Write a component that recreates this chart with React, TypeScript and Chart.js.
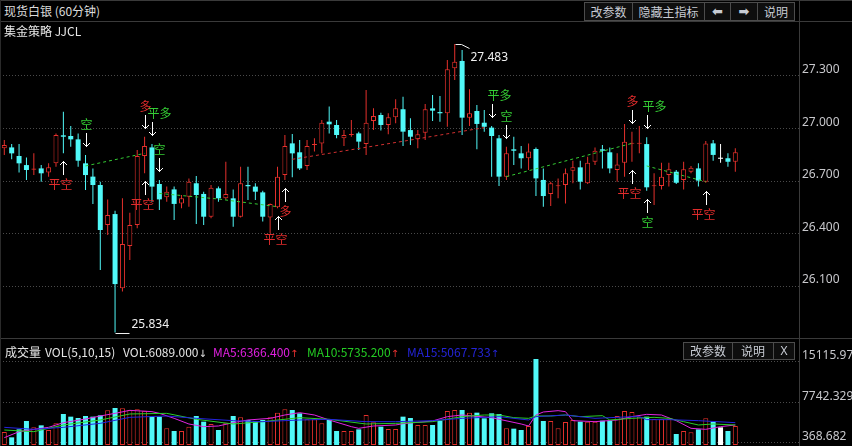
import React, { useEffect, useRef } from 'react';
import { Chart, registerables } from 'chart.js';

Chart.register(...registerables);

// ---------------- data ----------------
const opens = [26.887,26.892,26.843,26.791,26.765,26.772,26.748,26.801,26.961,26.957,26.938,26.801,26.725,26.677,26.449,26.511,26.087,26.329,26.449,26.843,26.892,26.683,26.607,26.652,26.572,26.610,26.687,26.626,26.496,26.658,26.601,26.601,26.496,26.677,26.668,26.635,26.492,26.550,26.734,26.915,26.864,26.786,26.906,26.915,27.039,27.020,26.944,26.963,26.972,26.911,27.043,27.077,27.020,27.064,27.110,26.991,26.938,26.976,27.115,27.094,27.087,27.344,27.386,27.062,27.100,27.033,27.005,26.944,26.725,26.881,26.858,26.830,26.883,26.706,26.626,26.671,26.677,26.759,26.778,26.687,26.810,26.881,26.864,26.763,26.805,26.913,26.913,26.911,26.671,26.671,26.734,26.753,26.706,26.753,26.772,26.696,26.915,26.830,26.830,26.810];
const highs = [26.934,26.911,26.911,26.835,26.858,26.791,26.801,26.972,27.096,27.014,26.972,26.849,26.772,26.696,26.595,26.530,26.601,26.519,26.877,26.953,26.911,26.706,26.668,26.668,26.620,26.715,26.729,26.639,26.677,26.668,26.810,26.652,26.782,26.782,26.687,26.645,26.572,26.782,26.963,26.969,26.934,26.934,26.944,27.049,27.125,27.049,26.991,27.049,26.982,27.220,27.115,27.090,27.087,27.167,27.182,27.058,26.991,27.140,27.191,27.186,27.391,27.483,27.449,27.224,27.134,27.106,27.014,26.963,26.896,26.953,26.900,26.915,26.892,26.772,26.696,26.715,26.772,26.816,26.816,26.839,26.892,26.906,26.892,26.858,27.026,26.982,27.014,26.950,26.744,26.805,26.805,26.763,26.810,26.786,26.801,26.929,26.934,26.911,26.858,26.887];
const lows = [26.849,26.824,26.748,26.706,26.734,26.696,26.725,26.782,26.858,26.896,26.782,26.649,26.569,26.191,26.391,25.834,26.068,26.249,26.430,26.744,26.582,26.534,26.582,26.477,26.544,26.553,26.454,26.449,26.487,26.582,26.595,26.439,26.492,26.591,26.591,26.468,26.401,26.544,26.706,26.721,26.763,26.763,26.868,26.858,26.972,26.944,26.900,26.953,26.877,26.849,26.991,26.988,26.967,27.030,26.900,26.906,26.887,26.934,27.043,27.039,27.010,27.277,26.963,27.014,26.881,26.982,26.725,26.671,26.706,26.791,26.772,26.763,26.614,26.553,26.557,26.601,26.572,26.687,26.652,26.683,26.791,26.772,26.744,26.696,26.725,26.810,26.858,26.645,26.563,26.652,26.668,26.683,26.652,26.744,26.668,26.690,26.816,26.805,26.782,26.753];
const closes = [26.906,26.858,26.801,26.763,26.771,26.744,26.778,26.963,26.953,26.938,26.816,26.734,26.677,26.420,26.506,26.111,26.340,26.449,26.843,26.900,26.668,26.595,26.639,26.569,26.601,26.696,26.620,26.496,26.662,26.601,26.626,26.496,26.687,26.670,26.639,26.496,26.569,26.725,26.900,26.858,26.772,26.900,26.911,27.033,27.024,26.963,26.963,26.969,26.925,27.033,27.071,27.020,27.064,27.115,26.982,26.953,26.967,27.110,27.102,27.087,27.338,27.382,27.062,27.087,27.026,27.010,26.957,26.725,26.858,26.873,26.830,26.868,26.715,26.614,26.687,26.675,26.744,26.778,26.696,26.805,26.873,26.873,26.772,26.795,26.925,26.919,26.919,26.664,26.675,26.725,26.767,26.690,26.767,26.776,26.702,26.915,26.849,26.830,26.810,26.864];
const volumes = [2360,1392,2844,4356,3207,3570,2723,3933,5627,5143,4901,5264,5143,5385,6292,6716,6655,6353,6474,6232,5143,5143,3025,2541,2541,3328,5264,4235,3812,2723,4054,5264,5022,4538,4356,4538,5022,5869,6474,6353,5748,4659,4659,3933,4538,2541,2541,2541,2844,5445,4114,3328,2904,2904,5143,4901,3630,3630,3630,4417,6171,6353,6353,5869,5869,4840,5748,5627,3025,2965,2723,3449,15609,4356,4356,3025,4175,4538,4235,4235,4235,4417,4417,5264,6171,5990,5143,5143,4719,4719,4719,1997,2541,2299,2844,4840,4235,3207,2541,3449];

const priceTicks = [26.1, 26.4, 26.7, 27.0, 27.3];
const volTicks = [368.682, 7742.329, 15115.976];

// volume moving-average lines (at sample bars)
const ma5Idx = [0,2,4,6,8,11,13,15,17,20,21,23,25,27,29,31,33,36,38,40,42,44,47,48,50,53,54,58,60,62,66,70,71,72,73,75,76,77,80,83,85,87,89,91,93,95,97,99];
const ma5Val = [1331,2420,2844,3207,4054,4719,5264,5748,6292,6050,5748,4840,3812,3328,3449,4054,4538,4840,5445,5869,5445,4538,3328,3025,3449,3630,3872,4356,5143,5445,4961,3812,3449,5445,5990,6232,6050,4417,4235,4538,5143,5566,5445,4417,3025,2844,3328,3630];
const ma10Idx = [0,4,8,13,17,22,26,31,35,40,44,49,53,58,62,65,67,69,71,72,74,76,78,81,82,85,88,90,92,94,96,99];
const ma10Val = [2723,2420,3630,4538,5627,5748,4659,3812,4235,4961,4659,3812,3933,4235,5143,5445,5445,4961,4840,5264,5264,5445,5143,5324,4538,4840,5022,4840,4235,3630,3812,3630];
const ma15Idx = [0,4,8,13,17,22,26,31,35,40,44,49,53,58,62,67,71,72,76,80,85,86,87,90,94,99];
const ma15Val = [3207,2844,3207,3933,5022,5264,4840,4417,4235,4538,4659,4235,4235,4417,4840,5143,4538,5143,5445,4840,5143,5143,4600,4600,4417,4054];

// strategy stop lines
const greenStop1Idx = [11, 19];
const greenStop1Val = [26.786, 26.858];
const greenStop2Idx = [21, 29, 37];
const greenStop2Val = [26.629, 26.597, 26.553];
const redStopIdx = [39, 54, 65];
const redStopVal = [26.824, 26.927, 27.005];
const greenStop3Idx = [68, 85];
const greenStop3Val = [26.725, 26.915];
const greenStop4Idx = [87, 95];
const greenStop4Val = [26.786, 26.696];

// strategy signals
const sigIdx = [8, 11, 19, 20, 21, 19, 38, 37, 66, 68, 85, 87, 85, 87, 95];
const sigText = ['平空', '空', '多', '平多', '空', '平空', '多', '平空', '平多', '空', '多', '平多', '平空', '空', '平空'];
const sigSide = ['below', 'above', 'above', 'above', 'above', 'below', 'below', 'below', 'above', 'above', 'above', 'above', 'below', 'below', 'below'];

const titleText = '现货白银 (60分钟)';
const strategyText = '集金策略 JJCL';

// ---------------- styles ----------------
const RED = '#e4302c';
const CYAN = '#50f8f8';
const WHITE = '#ffffff';
const AXIS = '#c8c8cc';
const GRID = '#4a4a4a';
const SIG_GREEN = '#34cc34';
const SIG_RED = '#e02c2c';
const SIG_COLOR: Record<string, string> = { '平空': SIG_RED, '多': SIG_RED, '空': SIG_GREEN, '平多': SIG_GREEN };
const SIG_DX: Record<string, number> = { '平空': -3, '多': 0, '空': 0, '平多': 7 };
const CJK = '"Noto Sans CJK SC", "Noto Sans", sans-serif';

const XMIN = -0.582;
const XMAX = 107.76;

function candleColor(i: number) {
  if (closes[i] > opens[i]) return RED;
  if (closes[i] < opens[i]) return CYAN;
  return WHITE;
}

function pts(idx: number[], val: number[]) {
  return idx.map((x, k) => ({ x, y: val[k] }));
}

const signalPlugin = {
  id: 'signals',
  afterDatasetsDraw(chart: any) {
    const ctx = chart.ctx;
    const xs = chart.scales.x;
    const ys = chart.scales.y;
    ctx.save();
    ctx.font = '12px ' + CJK;
    ctx.textAlign = 'center';
    ctx.textBaseline = 'middle';
    sigIdx.forEach((i, k) => {
      const text = sigText[k];
      const below = sigSide[k] === 'below';
      const px = Math.round(xs.getPixelForValue(i)) + 0.5;
      let a0: number, a1: number, ty: number;
      if (below) {
        a0 = Math.round(ys.getPixelForValue(lows[i])) + 8;
        a1 = a0 + 14;
        ty = a1 + 9;
      } else {
        a1 = Math.round(ys.getPixelForValue(highs[i])) - 8;
        a0 = a1 - 14;
        ty = a0 - 9;
      }
      ctx.strokeStyle = '#ffffff';
      ctx.lineWidth = 1;
      ctx.beginPath();
      ctx.moveTo(px, a0);
      ctx.lineTo(px, a1);
      if (below) {
        ctx.moveTo(px - 3.5, a0 + 4);
        ctx.lineTo(px, a0 + 0.5);
        ctx.lineTo(px + 3.5, a0 + 4);
      } else {
        ctx.moveTo(px - 3.5, a1 - 4);
        ctx.lineTo(px, a1 - 0.5);
        ctx.lineTo(px + 3.5, a1 - 4);
      }
      ctx.stroke();
      ctx.fillStyle = SIG_COLOR[text];
      ctx.fillText(text, px + SIG_DX[text], ty);
    });
    ctx.restore();
  },
};

const extremesPlugin = {
  id: 'extremes',
  afterDatasetsDraw(chart: any) {
    const ctx = chart.ctx;
    const xs = chart.scales.x;
    const ys = chart.scales.y;
    const maxH = Math.max(...highs);
    const minL = Math.min(...lows);
    const hi = highs.indexOf(maxH);
    const lo = lows.indexOf(minL);
    ctx.save();
    ctx.strokeStyle = '#f0f0f0';
    ctx.fillStyle = '#f0f0f0';
    ctx.lineWidth = 1;
    ctx.font = '12px "Noto Sans", sans-serif';
    ctx.textAlign = 'left';
    ctx.textBaseline = 'middle';
    const hx = Math.round(xs.getPixelForValue(hi)) + 0.5;
    const hy = Math.round(ys.getPixelForValue(maxH)) + 0.5;
    ctx.beginPath();
    ctx.moveTo(hx, hy);
    ctx.lineTo(hx + 6, hy);
    ctx.lineTo(hx + 14, hy + 4);
    ctx.stroke();
    ctx.fillText(maxH.toFixed(3), hx + 15, hy + 13);
    const lx = Math.round(xs.getPixelForValue(lo)) + 0.5;
    const ly = Math.round(ys.getPixelForValue(minL)) + 0.5;
    ctx.beginPath();
    ctx.moveTo(lx, ly);
    ctx.lineTo(lx + 14, ly);
    ctx.stroke();
    ctx.fillText(minL.toFixed(3), lx + 16, ly - 9);
    ctx.restore();
  },
};

function rightAxis(min: number, max: number, ticks: number[]) {
  return {
    position: 'right',
    min,
    max,
    afterFit: (s: any) => {
      s.width = 52;
      s.paddingTop = 0;
      s.paddingBottom = 0;
    },
    afterBuildTicks: (s: any) => {
      s.ticks = ticks.map((v) => ({ value: v }));
    },
    ticks: {
      color: AXIS,
      font: { size: 12, family: 'Noto Sans' },
      padding: 2,
      labelOffset: -6,
      callback: (v: any) => Number(v).toFixed(3),
    },
    grid: { color: GRID, drawTicks: false, lineWidth: 1 },
    border: { display: false, dash: [1, 2] },
  };
}

const Button = ({ left, top, width, height, label, font }: any) => (
  <div
    style={{
      position: 'absolute',
      left,
      top,
      width,
      height,
      boxSizing: 'border-box',
      border: '1px solid #4c4c4c',
      background: '#0e0e0e',
      color: '#c8ccd4',
      font: font || '12px ' + CJK,
      lineHeight: height - 2 + 'px',
      textAlign: 'center',
      whiteSpace: 'nowrap',
    }}
  >
    {label}
  </div>
);

export default function App() {
  const mainRef = useRef<HTMLCanvasElement>(null);
  const volRef = useRef<HTMLCanvasElement>(null);

  useEffect(() => {
    document.body.style.margin = '0';
    document.body.style.background = '#000';
    const idx = opens.map((_, i) => i);
    const colors = idx.map(candleColor);
    const isUp = idx.map((i) => closes[i] > opens[i]);

    const bodyData = idx.map((i) => {
      const a = Math.min(opens[i], closes[i]);
      const b = Math.max(opens[i], closes[i]);
      const m = (a + b) / 2;
      return { x: i, y: b - a < 0.006 ? [m - 0.003, m + 0.003] : [a, b] };
    });
    const wickData = idx.map((i) => ({ x: i, y: [lows[i], highs[i]] }));

    const dashLine = (data: any, color: string) => ({
      type: 'line',
      data,
      borderColor: color,
      borderWidth: 1,
      borderDash: [3, 3],
      pointRadius: 0,
      tension: 0,
      order: 0,
    });

    const main = new Chart(mainRef.current as HTMLCanvasElement, {
      type: 'bar',
      data: {
        datasets: [
          dashLine(pts(greenStop1Idx, greenStop1Val), SIG_GREEN),
          dashLine(pts(greenStop2Idx, greenStop2Val), SIG_GREEN),
          dashLine(pts(redStopIdx, redStopVal), '#d03030'),
          dashLine(pts(greenStop3Idx, greenStop3Val), SIG_GREEN),
          dashLine(pts(greenStop4Idx, greenStop4Val), SIG_GREEN),
          {
            type: 'bar',
            data: bodyData,
            backgroundColor: idx.map((i) => (isUp[i] ? '#000000' : colors[i])),
            borderColor: colors,
            borderWidth: idx.map((i) => (isUp[i] ? 1 : 0)),
            borderSkipped: false,
            barThickness: 5,
            grouped: false,
            inflateAmount: 0,
            order: 1,
          },
          {
            type: 'bar',
            data: wickData,
            backgroundColor: colors,
            borderWidth: 0,
            barThickness: 1,
            grouped: false,
            inflateAmount: 0,
            order: 2,
          },
        ] as any,
      },
      options: {
        animation: false,
        responsive: false,
        maintainAspectRatio: false,
        devicePixelRatio: 1,
        layout: { padding: 0 },
        events: [],
        plugins: { legend: { display: false }, tooltip: { enabled: false } },
        scales: {
          x: { type: 'linear', min: XMIN, max: XMAX, display: false, offset: false },
          y: rightAxis(25.80286, 27.60857, priceTicks),
        } as any,
      },
      plugins: [signalPlugin, extremesPlugin],
    } as any);

    const maLine = (data: any, color: string) => ({
      type: 'line',
      data,
      borderColor: color,
      borderWidth: 1,
      pointRadius: 0,
      tension: 0,
      order: 0,
    });

    const vol = new Chart(volRef.current as HTMLCanvasElement, {
      type: 'bar',
      data: {
        datasets: [
          maLine(pts(ma15Idx, ma15Val), '#2424e0'),
          maLine(pts(ma10Idx, ma10Val), '#28cc28'),
          maLine(pts(ma5Idx, ma5Val), '#e024e0'),
          {
            type: 'bar',
            data: idx.map((i) => ({ x: i, y: volumes[i] })),
            backgroundColor: idx.map((i) => (isUp[i] ? '#000000' : colors[i])),
            borderColor: colors,
            borderWidth: idx.map((i) => (isUp[i] ? 1 : 0)),
            borderSkipped: false,
            barThickness: 5,
            grouped: false,
            inflateAmount: 0,
            order: 1,
          },
        ] as any,
      },
      options: {
        animation: false,
        responsive: false,
        maintainAspectRatio: false,
        devicePixelRatio: 1,
        layout: { padding: 0 },
        events: [],
        plugins: { legend: { display: false }, tooltip: { enabled: false } },
        scales: {
          x: { type: 'linear', min: XMIN, max: XMAX, display: false, offset: false },
          y: rightAxis(-181.5, 19238, volTicks),
        } as any,
      },
    } as any);

    return () => {
      main.destroy();
      vol.destroy();
    };
  }, []);

  const txt = (left: number, top: number, color: string, content: any, extra: any = {}) => (
    <div
      style={{
        position: 'absolute',
        left,
        top,
        color,
        font: '12px ' + CJK,
        lineHeight: '16px',
        whiteSpace: 'nowrap',
        ...extra,
      }}
    >
      {content}
    </div>
  );
  const arrow = (ch: string, color: string) => (
    <span style={{ color, fontFamily: '"DejaVu Sans", sans-serif', fontSize: 10 }}>{ch}</span>
  );

  return (
    <div
      style={{
        position: 'fixed',
        left: 0,
        top: 0,
        width: 852,
        height: 446,
        background: '#000',
        overflow: 'hidden',
      }}
    >
      <canvas
        ref={mainRef}
        width={852}
        height={316}
        style={{ position: 'absolute', left: 0, top: 22, width: 852, height: 316 }}
      />
      <canvas
        ref={volRef}
        width={852}
        height={107}
        style={{ position: 'absolute', left: 0, top: 339, width: 852, height: 107 }}
      />

      {/* frame lines */}
      <div style={{ position: 'absolute', left: 0, top: 0, width: 852, height: 1, background: '#3a3a3a' }} />
      <div style={{ position: 'absolute', left: 0, top: 21, width: 852, height: 1, background: '#3a3a3a' }} />
      <div style={{ position: 'absolute', left: 0, top: 338, width: 852, height: 1, background: '#3a3a3a' }} />
      <div style={{ position: 'absolute', left: 799, top: 0, width: 1, height: 446, background: '#3a3a3a' }} />
      <div style={{ position: 'absolute', left: 0, top: 0, width: 1, height: 446, background: '#2a2a2a' }} />

      {txt(4, 3, '#dcdcdc', titleText)}
      {txt(4, 23, '#e6e6e6', strategyText)}

      <Button left={584} top={2} width={49} height={19} label="改参数" />
      <Button left={632} top={2} width={73} height={19} label="隐藏主指标" />
      <Button left={704} top={2} width={27} height={19} label="⬅" font='bold 13px "DejaVu Sans", sans-serif' />
      <Button left={730} top={2} width={28} height={19} label="➡" font='bold 13px "DejaVu Sans", sans-serif' />
      <Button left={757} top={2} width={38} height={19} label="说明" />

      {txt(5, 344, '#e6e6e6', '成交量')}
      {txt(45, 344, '#e6e6e6', 'VOL(5,10,15)')}
      {txt(123, 344, '#e6e6e6', <>VOL:6089.000{arrow('↓', '#e6e6e6')}</>)}
      {txt(213, 344, '#e020e0', <>MA5:6366.400{arrow('↑', '#e83030')}</>)}
      {txt(307, 344, '#24cc24', <>MA10:5735.200{arrow('↑', '#e83030')}</>)}
      {txt(407, 344, '#2424d8', <>MA15:5067.733{arrow('↑', '#2424d8')}</>)}

      <Button left={683} top={342} width={50} height={18} label="改参数" />
      <Button left={732} top={342} width={42} height={18} label="说明" />
      <Button left={773} top={342} width={22} height={18} label="X" font='12px "Noto Sans", sans-serif' />
    </div>
  );
}
